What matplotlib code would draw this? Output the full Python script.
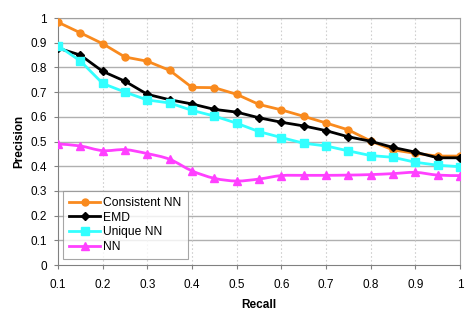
import numpy as np
import matplotlib
matplotlib.use("Agg")
import matplotlib.pyplot as plt
from matplotlib.path import Path
from matplotlib.patches import PathPatch

plt.rcParams['font.family'] = ['Liberation Sans', 'DejaVu Sans']

recall = [0.1, 0.15, 0.2, 0.25, 0.3, 0.35, 0.4, 0.45, 0.5, 0.55,
          0.6, 0.65, 0.7, 0.75, 0.8, 0.85, 0.9, 0.95, 1.0]

consistent_nn = [0.983, 0.94, 0.896, 0.842, 0.825, 0.788, 0.719, 0.718, 0.691, 0.65,
                 0.628, 0.602, 0.575, 0.547, 0.502, 0.466, 0.452, 0.441, 0.441]
emd = [0.878, 0.85, 0.784, 0.744, 0.691, 0.669, 0.652, 0.63, 0.619, 0.596,
       0.578, 0.563, 0.544, 0.519, 0.501, 0.476, 0.457, 0.434, 0.434]
unique_nn = [0.888, 0.826, 0.735, 0.70, 0.668, 0.656, 0.626, 0.603, 0.574, 0.54,
             0.516, 0.493, 0.482, 0.462, 0.443, 0.436, 0.416, 0.404, 0.398]
nn = [0.49, 0.482, 0.463, 0.467, 0.451, 0.428, 0.381, 0.351, 0.34, 0.348,
      0.362, 0.363, 0.363, 0.364, 0.366, 0.37, 0.375, 0.364, 0.362]

series = ['Consistent NN', 'EMD', 'Unique NN', 'NN']
colors = ['#F98A1E', '#000000', '#33FFFF', '#FF40FF']
markers = ['o', 'D', 's', '^']
msizes = [5, 4, 5.5, 6]


def smooth_path(x, y, t=1/6):
    # cubic bezier through the points (catmull-rom style tangents)
    x = np.asarray(x); y = np.asarray(y)
    verts = [(x[0], y[0])]
    codes = [Path.MOVETO]
    n = len(x)
    for i in range(n - 1):
        p0 = np.array([x[max(i - 1, 0)], y[max(i - 1, 0)]])
        p1 = np.array([x[i], y[i]])
        p2 = np.array([x[i + 1], y[i + 1]])
        p3 = np.array([x[min(i + 2, n - 1)], y[min(i + 2, n - 1)]])
        c1 = p1 + (p2 - p0) * t
        c2 = p2 - (p3 - p1) * t
        verts += [tuple(c1), tuple(c2), tuple(p2)]
        codes += [Path.CURVE4] * 3
    return Path(verts, codes)


fig = plt.figure(figsize=(4.74, 3.23), dpi=100)
ax = fig.add_axes([58/474, 1 - 265/323, 402/474, 247/323])

ax.set_xlim(0.1, 1.0)
ax.set_ylim(0, 1)
ax.set_xticks(np.arange(0.1, 1.01, 0.1))
ax.set_xticklabels(['0.1', '0.2', '0.3', '0.4', '0.5', '0.6', '0.7', '0.8', '0.9', '1'])
ax.set_yticks(np.arange(0, 1.01, 0.1))
ax.set_yticklabels(['0', '0.1', '0.2', '0.3', '0.4', '0.5', '0.6', '0.7', '0.8', '0.9', '1'])

for yv in np.arange(0.1, 1.01, 0.1):
    ax.axhline(yv, color='#B0B0B0', lw=1.0, zorder=0)
for xv in np.arange(0.2, 0.91, 0.1):
    ax.axvline(xv, color='#D0D0D0', lw=0.8, ls=(0, (1.5, 2)), zorder=0)

data = [consistent_nn, emd, unique_nn, nn]
for name, vals, c, m, ms in zip(series, data, colors, markers, msizes):
    if name == 'NN':
        ax.add_patch(PathPatch(smooth_path(recall, vals), facecolor='none',
                               edgecolor=c, lw=2, zorder=3))
        ax.plot(recall, vals, ls='none', marker=m, ms=ms, color=c, zorder=4)
        ax.plot([], [], color=c, lw=2, marker=m, ms=ms, label=name)
    else:
        ax.plot(recall, vals, color=c, lw=2, marker=m, ms=ms, label=name, zorder=3)

for s in ['top', 'right']:
    ax.spines[s].set_color('#A0A0A0')
for s in ['left', 'bottom']:
    ax.spines[s].set_color('#808080')
ax.tick_params(axis='both', labelsize=8.5, length=3, color='#808080')
ax.tick_params(axis='x', pad=7)
ax.tick_params(axis='y', pad=5)

ax.set_xlabel('Recall', fontsize=8.5, fontweight='bold', labelpad=6)
ax.set_ylabel('Precision', fontsize=8.5, fontweight='bold', labelpad=4)

leg = ax.legend(loc='lower left', bbox_to_anchor=(0.012, 0.024), fontsize=8.7,
                frameon=True, fancybox=False, edgecolor='#909090',
                handlelength=2.6, handletextpad=0.25, labelspacing=0.22,
                borderpad=0.5, borderaxespad=0)
leg.get_frame().set_linewidth(0.8)

fig.savefig('out.png', dpi=100)
